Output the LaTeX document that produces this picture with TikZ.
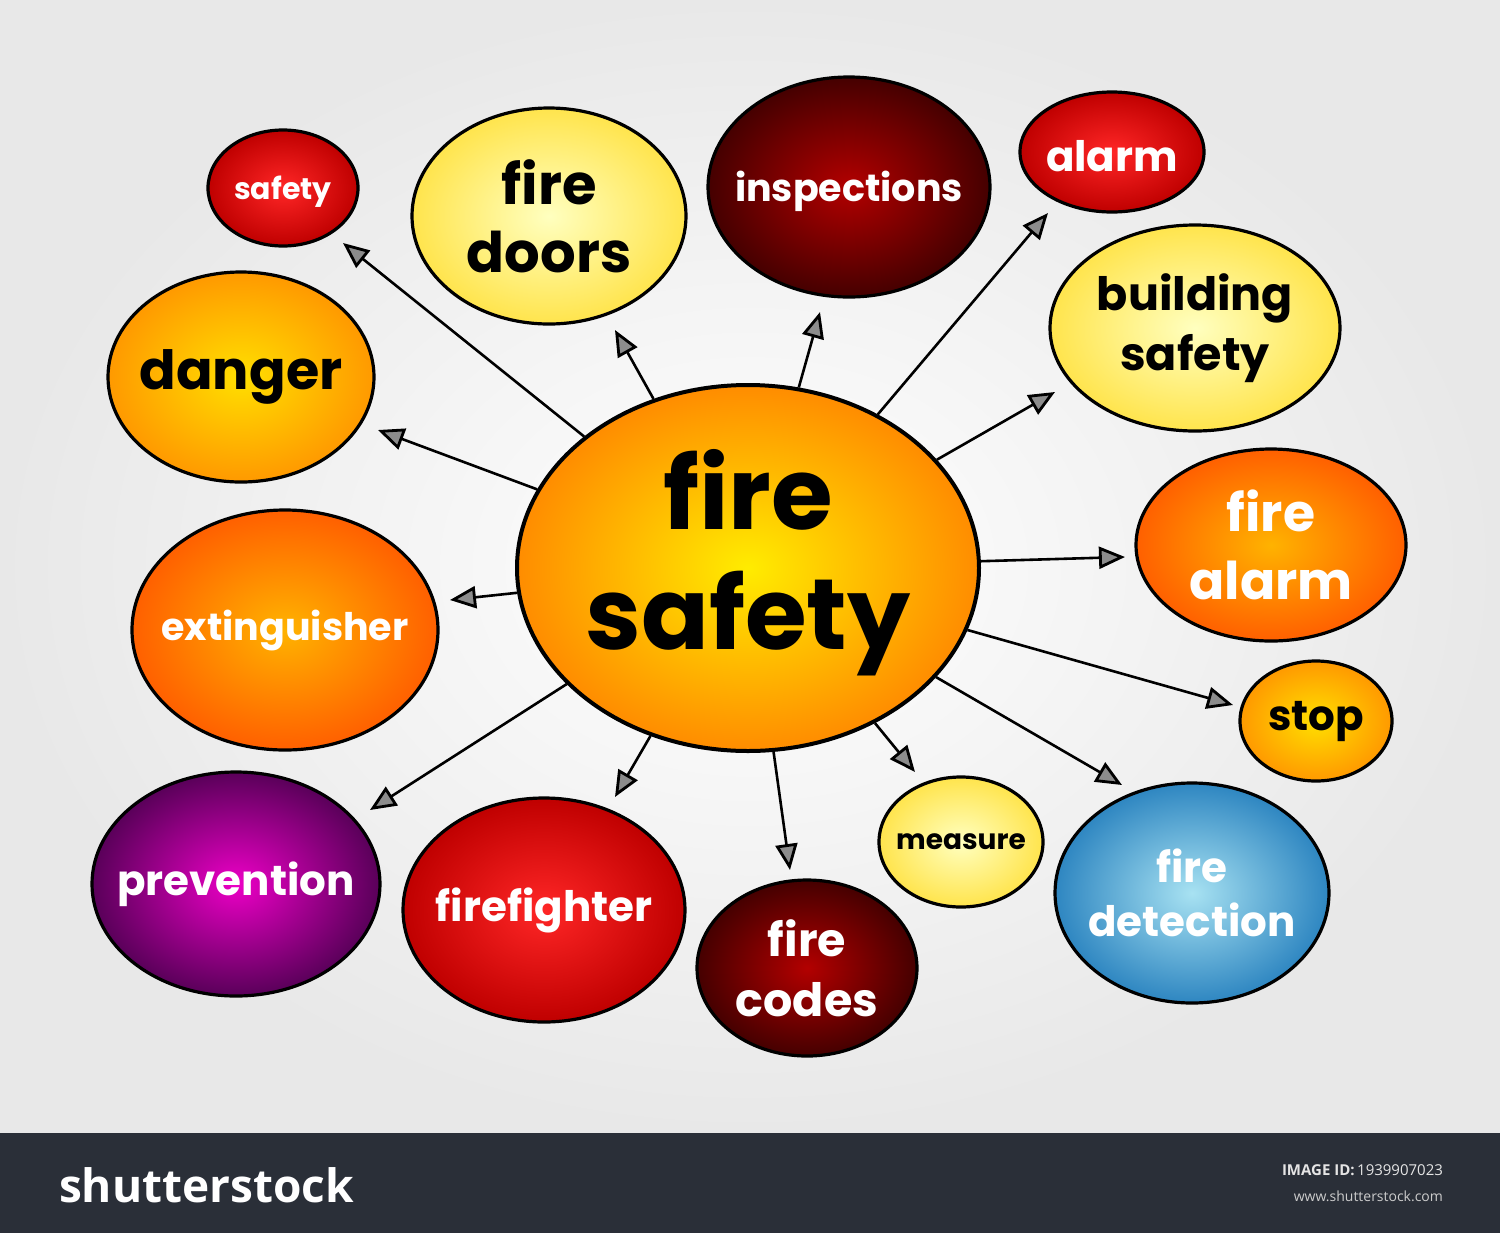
\documentclass[tikz,border=0pt]{standalone}
\usepackage{fontspec}
\setmainfont{Poppins}
\newfontfamily\barfont{Open Sans}
\usetikzlibrary{shapes.geometric,arrows.meta}
\definecolor{barbg}{HTML}{2A2F38}
\definecolor{blueout}{HTML}{2E86C1}
\definecolor{bluein}{HTML}{A8E2F2}
\tikzset{
  bubble/.style={ellipse, draw=black, line width=1.6pt, inner sep=0pt},
  lbl/.style={align=center, inner sep=0pt, font=\bfseries},
  wtext/.style={lbl, text=white},
  btext/.style={lbl, text=black},
  redb/.style={inner color=red!85!white, outer color=red!75!black},
  darkb/.style={inner color=red!70!black, outer color=black!40!red!45!black},
  paleb/.style={inner color=yellow!25!white, outer color=yellow!70!orange!70!white},
  orangeb/.style={inner color=orange!60!yellow, outer color=orange!75!red},
  yellowb/.style={inner color=yellow!75!orange, outer color=orange!80!yellow},
  purpleb/.style={inner color=magenta!70!purple, outer color=violet!70!black},
  blueb/.style={inner color=bluein, outer color=blueout},
  arr/.style={line width=1.3pt, -{Triangle[open, length=13pt, width=11pt, line width=1.4pt, fill=black!45]}},
}
\begin{document}
\begin{tikzpicture}[x=0.5pt, y=-0.5pt]
\useasboundingbox (0,0) rectangle (1500,1233);
\shade[inner color=white, outer color=black!9] (0,0) rectangle (1500,1133);
\fill[barbg] (0,1133) rectangle (1500,1233);
\node[anchor=west, text=white, font=\barfont\bfseries\fontsize{23pt}{27pt}\selectfont] (brand) at (52,1185) {shutterstock};
\node[anchor=east, text=white!90!black, font=\barfont\fontsize{7.5pt}{9pt}\selectfont] (imgid) at (1450,1170) {\textbf{IMAGE ID:}\,1939907023};
\node[anchor=east, text=white!80!black, font=\barfont\fontsize{7pt}{9pt}\selectfont] (www) at (1450,1196) {www.shutterstock.com};

% shapes
\node[bubble, line width=2pt, inner color=yellow!85!orange, outer color=orange!90!yellow, minimum width=231pt, minimum height=183pt] (c) at (748,568) {};
\node[bubble, redb, minimum width=75pt, minimum height=58pt] (safety) at (283,188) {};
\node[bubble, paleb, minimum width=137pt, minimum height=108pt] (doors) at (549,216) {};
\node[bubble, darkb, minimum width=141pt, minimum height=110pt] (insp) at (849,187) {};
\node[bubble, redb, minimum width=92pt, minimum height=60pt] (alarm) at (1112,152) {};
\node[bubble, paleb, minimum width=145pt, minimum height=103pt] (bsafe) at (1195,328) {};
\node[bubble, yellowb, minimum width=133pt, minimum height=105pt] (danger) at (241,377) {};
\node[bubble, orangeb, minimum width=153pt, minimum height=120pt] (ext) at (285,630) {};
\node[bubble, orangeb, minimum width=135pt, minimum height=96pt] (falarm) at (1271,545) {};
\node[bubble, yellowb, minimum width=76pt, minimum height=60pt] (stop) at (1316,721) {};
\node[bubble, purpleb, minimum width=144pt, minimum height=112pt] (prev) at (236,884) {};
\node[bubble, redb, minimum width=141pt, minimum height=112pt] (ff) at (544,910) {};
\node[bubble, darkb, minimum width=110pt, minimum height=88pt] (codes) at (807,968) {};
\node[bubble, paleb, minimum width=82pt, minimum height=65pt] (measure) at (961,842) {};
\node[bubble, blueb, minimum width=137pt, minimum height=110pt] (det) at (1192,893) {};

% labels
\node[btext, font=\bfseries\fontsize{50pt}{60pt}\selectfont] (ct) at (748,563) {fire\\safety};
\node[wtext, font=\bfseries\fontsize{15pt}{16pt}\selectfont] (safetyt) at ([yshift=-2pt]safety) {safety};
\node[btext, font=\bfseries\fontsize{28pt}{34pt}\selectfont] (doorst) at (doors) {fire\\doors};
\node[wtext, font=\bfseries\fontsize{19pt}{20pt}\selectfont] (inspt) at ([yshift=-2pt]insp) {inspections};
\node[wtext, font=\bfseries\fontsize{21pt}{22pt}\selectfont] (alarmt) at ([yshift=-2pt]alarm) {alarm};
\node[btext, font=\bfseries\fontsize{23pt}{30pt}\selectfont] (bsafet) at (bsafe) {building\\safety};
\node[btext, font=\bfseries\fontsize{27pt}{28pt}\selectfont] (dangert) at (danger) {danger};
\node[wtext, font=\bfseries\fontsize{19pt}{20pt}\selectfont] (extt) at (ext) {extinguisher};
\node[wtext, font=\bfseries\fontsize{26pt}{34pt}\selectfont] (falarmt) at (falarm) {fire\\alarm};
\node[btext, font=\bfseries\fontsize{21pt}{22pt}\selectfont] (stopt) at (stop) {stop};
\node[wtext, font=\bfseries\fontsize{21pt}{22pt}\selectfont] (prevt) at (prev) {prevention};
\node[wtext, font=\bfseries\fontsize{21pt}{22pt}\selectfont] (fft) at (ff) {firefighter};
\node[wtext, font=\bfseries\fontsize{23pt}{30pt}\selectfont] (codest) at (codes) {fire\\codes};
\node[btext, font=\bfseries\fontsize{14pt}{15pt}\selectfont] (measuret) at (measure) {measure};
\node[wtext, font=\bfseries\fontsize{21pt}{27pt}\selectfont] (dett) at (det) {fire\\detection};

% arrow ends
\coordinate (e1) at (343,243);
\coordinate (e2) at (615,330);
\coordinate (e3) at (820,312);
\coordinate (e4) at (1048,213);
\coordinate (e5) at (1055,392);
\coordinate (e6) at (378,430);
\coordinate (e7) at (450,600);
\coordinate (e8) at (1125,557);
\coordinate (e9) at (1233,705);
\coordinate (e10) at (370,810);
\coordinate (e11) at (615,797);
\coordinate (e12) at (790,870);
\coordinate (e13) at (915,772);
\coordinate (e14) at (1122,785);
\foreach \i in {1,...,14} \draw[arr] (c) -- (e\i);
\end{tikzpicture}
\end{document}
